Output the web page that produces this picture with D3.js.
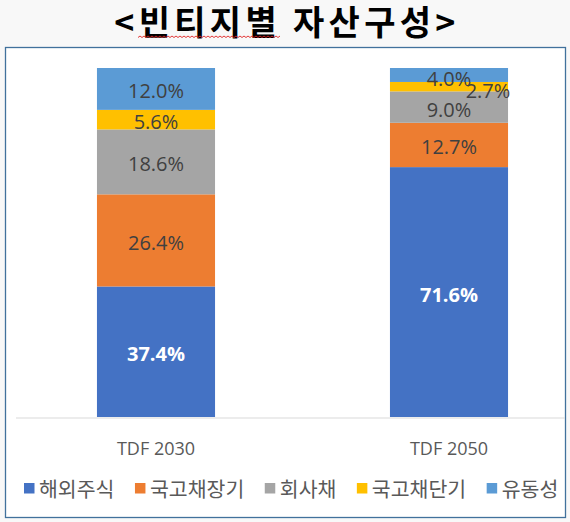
<!DOCTYPE html>
<html>
<head>
<meta charset="utf-8">
<script src="https://cdn.jsdelivr.net/npm/d3@7"></script>
<style>
  html, body { margin: 0; padding: 0; background: #f8f8f8; }
  svg { display: block; }
</style>
</head>
<body>
<svg id="chart" width="570" height="522"></svg>
<script>
// ---- data ----
const title = "<빈티지별 자산구성>";
const categories = ["TDF 2030", "TDF 2050"];
const seriesNames = ["해외주식", "국고채장기", "회사채", "국고채단기", "유동성"];
const seriesColors = ["#4472C4", "#ED7D31", "#A5A5A5", "#FFC000", "#5B9BD5"];
const overseasEquity = [37.4, 71.6];
const govBondLong = [26.4, 12.7];
const corpBond = [18.6, 9.0];
const govBondShort = [5.6, 2.7];
const liquidity = [12.0, 4.0];
const seriesValues = [overseasEquity, govBondLong, corpBond, govBondShort, liquidity];

// ---- build table ----
const table = categories.map((c, i) => {
  const row = { cat: c };
  seriesNames.forEach((s, j) => row[s] = seriesValues[j][i]);
  return row;
});
const stacked = d3.stack().keys(seriesNames)(table);

const svg = d3.select("#chart");
const W = 570, H = 522;

// chart frame
svg.append("rect")
  .attr("x", 5.5).attr("y", 47.5).attr("width", 560).attr("height", 470)
  .attr("fill", "#ffffff").attr("stroke", "#41719C").attr("stroke-width", 1.3);

// title
svg.append("text")
  .attr("x", W / 2 + 2).attr("y", 34.5)
  .attr("text-anchor", "middle")
  .attr("font-family", "'Noto Sans CJK KR', sans-serif")
  .attr("font-weight", "bold").attr("font-size", 34)
  .attr("letter-spacing", 4.3)
  .attr("fill", "#000").text(title);

// spell-check wavy underline under "빈티지별"
(function () {
  const p = d3.path();
  const x0 = 138, x1 = 280, y = 37.5;
  p.moveTo(x0, y);
  let up = true;
  for (let x = x0 + 2; x <= x1; x += 2) { p.lineTo(x, up ? y - 1.5 : y); up = !up; }
  svg.append("path").attr("d", p.toString()).attr("fill", "none")
    .attr("stroke", "#e02020").attr("stroke-width", 0.9);
})();

// scales
const x = d3.scaleBand().domain(categories).range([9.5, 595.5])
  .paddingInner(0.597).paddingOuter(0.2985);
const y = d3.scaleLinear().domain([0, 100]).range([417, 68]);
const color = d3.scaleOrdinal().domain(seriesNames).range(seriesColors);

// baseline
svg.append("line")
  .attr("x1", 16).attr("x2", 565)
  .attr("y1", y(0) + 1).attr("y2", y(0) + 1)
  .attr("stroke", "#d9d9d9").attr("stroke-width", 1.2);

// bars
const layers = svg.append("g").selectAll("g").data(stacked).join("g")
  .attr("fill", d => color(d.key));
layers.selectAll("rect").data(d => d).join("rect")
  .attr("x", d => x(d.data.cat))
  .attr("y", d => y(d[1]))
  .attr("width", x.bandwidth())
  .attr("height", d => y(d[0]) - y(d[1]));

// data labels
const labelFont = "'Open Sans', 'Noto Sans CJK KR', sans-serif";
stacked.forEach((layer, li) => {
  layer.forEach((d, ci) => {
    const v = d[1] - d[0];
    let cx = x(d.data.cat) + x.bandwidth() / 2;
    let cy = (y(d[0]) + y(d[1])) / 2 + 2;
    if (v < 3) { cx += 39; cy += 2; }
    if (li === stacked.length - 1 && v < 5) cy += 1.5;
    const isFirst = li === 0;
    svg.append("text")
      .attr("x", cx).attr("y", cy)
      .attr("text-anchor", "middle").attr("dominant-baseline", "central")
      .attr("font-family", labelFont)
      .attr("font-size", 20)
      .attr("font-weight", isFirst ? "bold" : "normal")
      .attr("fill", isFirst ? "#ffffff" : "#404040")
      .text(v.toFixed(1) + "%");
  });
});

// x axis labels
const xAxis = d3.axisBottom(x).tickSize(0).tickPadding(0);
const gx = svg.append("g").attr("transform", `translate(0, 448)`).call(xAxis);
gx.select(".domain").remove();
gx.selectAll("text")
  .attr("dy", null).attr("y", 0)
  .attr("dominant-baseline", "central")
  .attr("font-family", labelFont)
  .attr("font-size", 18).attr("fill", "#595959");

// legend
const legend = svg.append("g");
let lx = 24;
seriesNames.forEach((s, i) => {
  legend.append("rect").attr("x", lx).attr("y", 483).attr("width", 10.5).attr("height", 10.5)
    .attr("fill", color(s));
  const t = legend.append("text").attr("x", lx + 15).attr("y", 488)
    .attr("dominant-baseline", "central")
    .attr("font-family", "'Noto Sans CJK KR', sans-serif")
    .attr("font-size", 20.5).attr("fill", "#595959").text(s);
  lx += 15 + t.node().getComputedTextLength() + 20.5;
});
</script>
</body>
</html>
